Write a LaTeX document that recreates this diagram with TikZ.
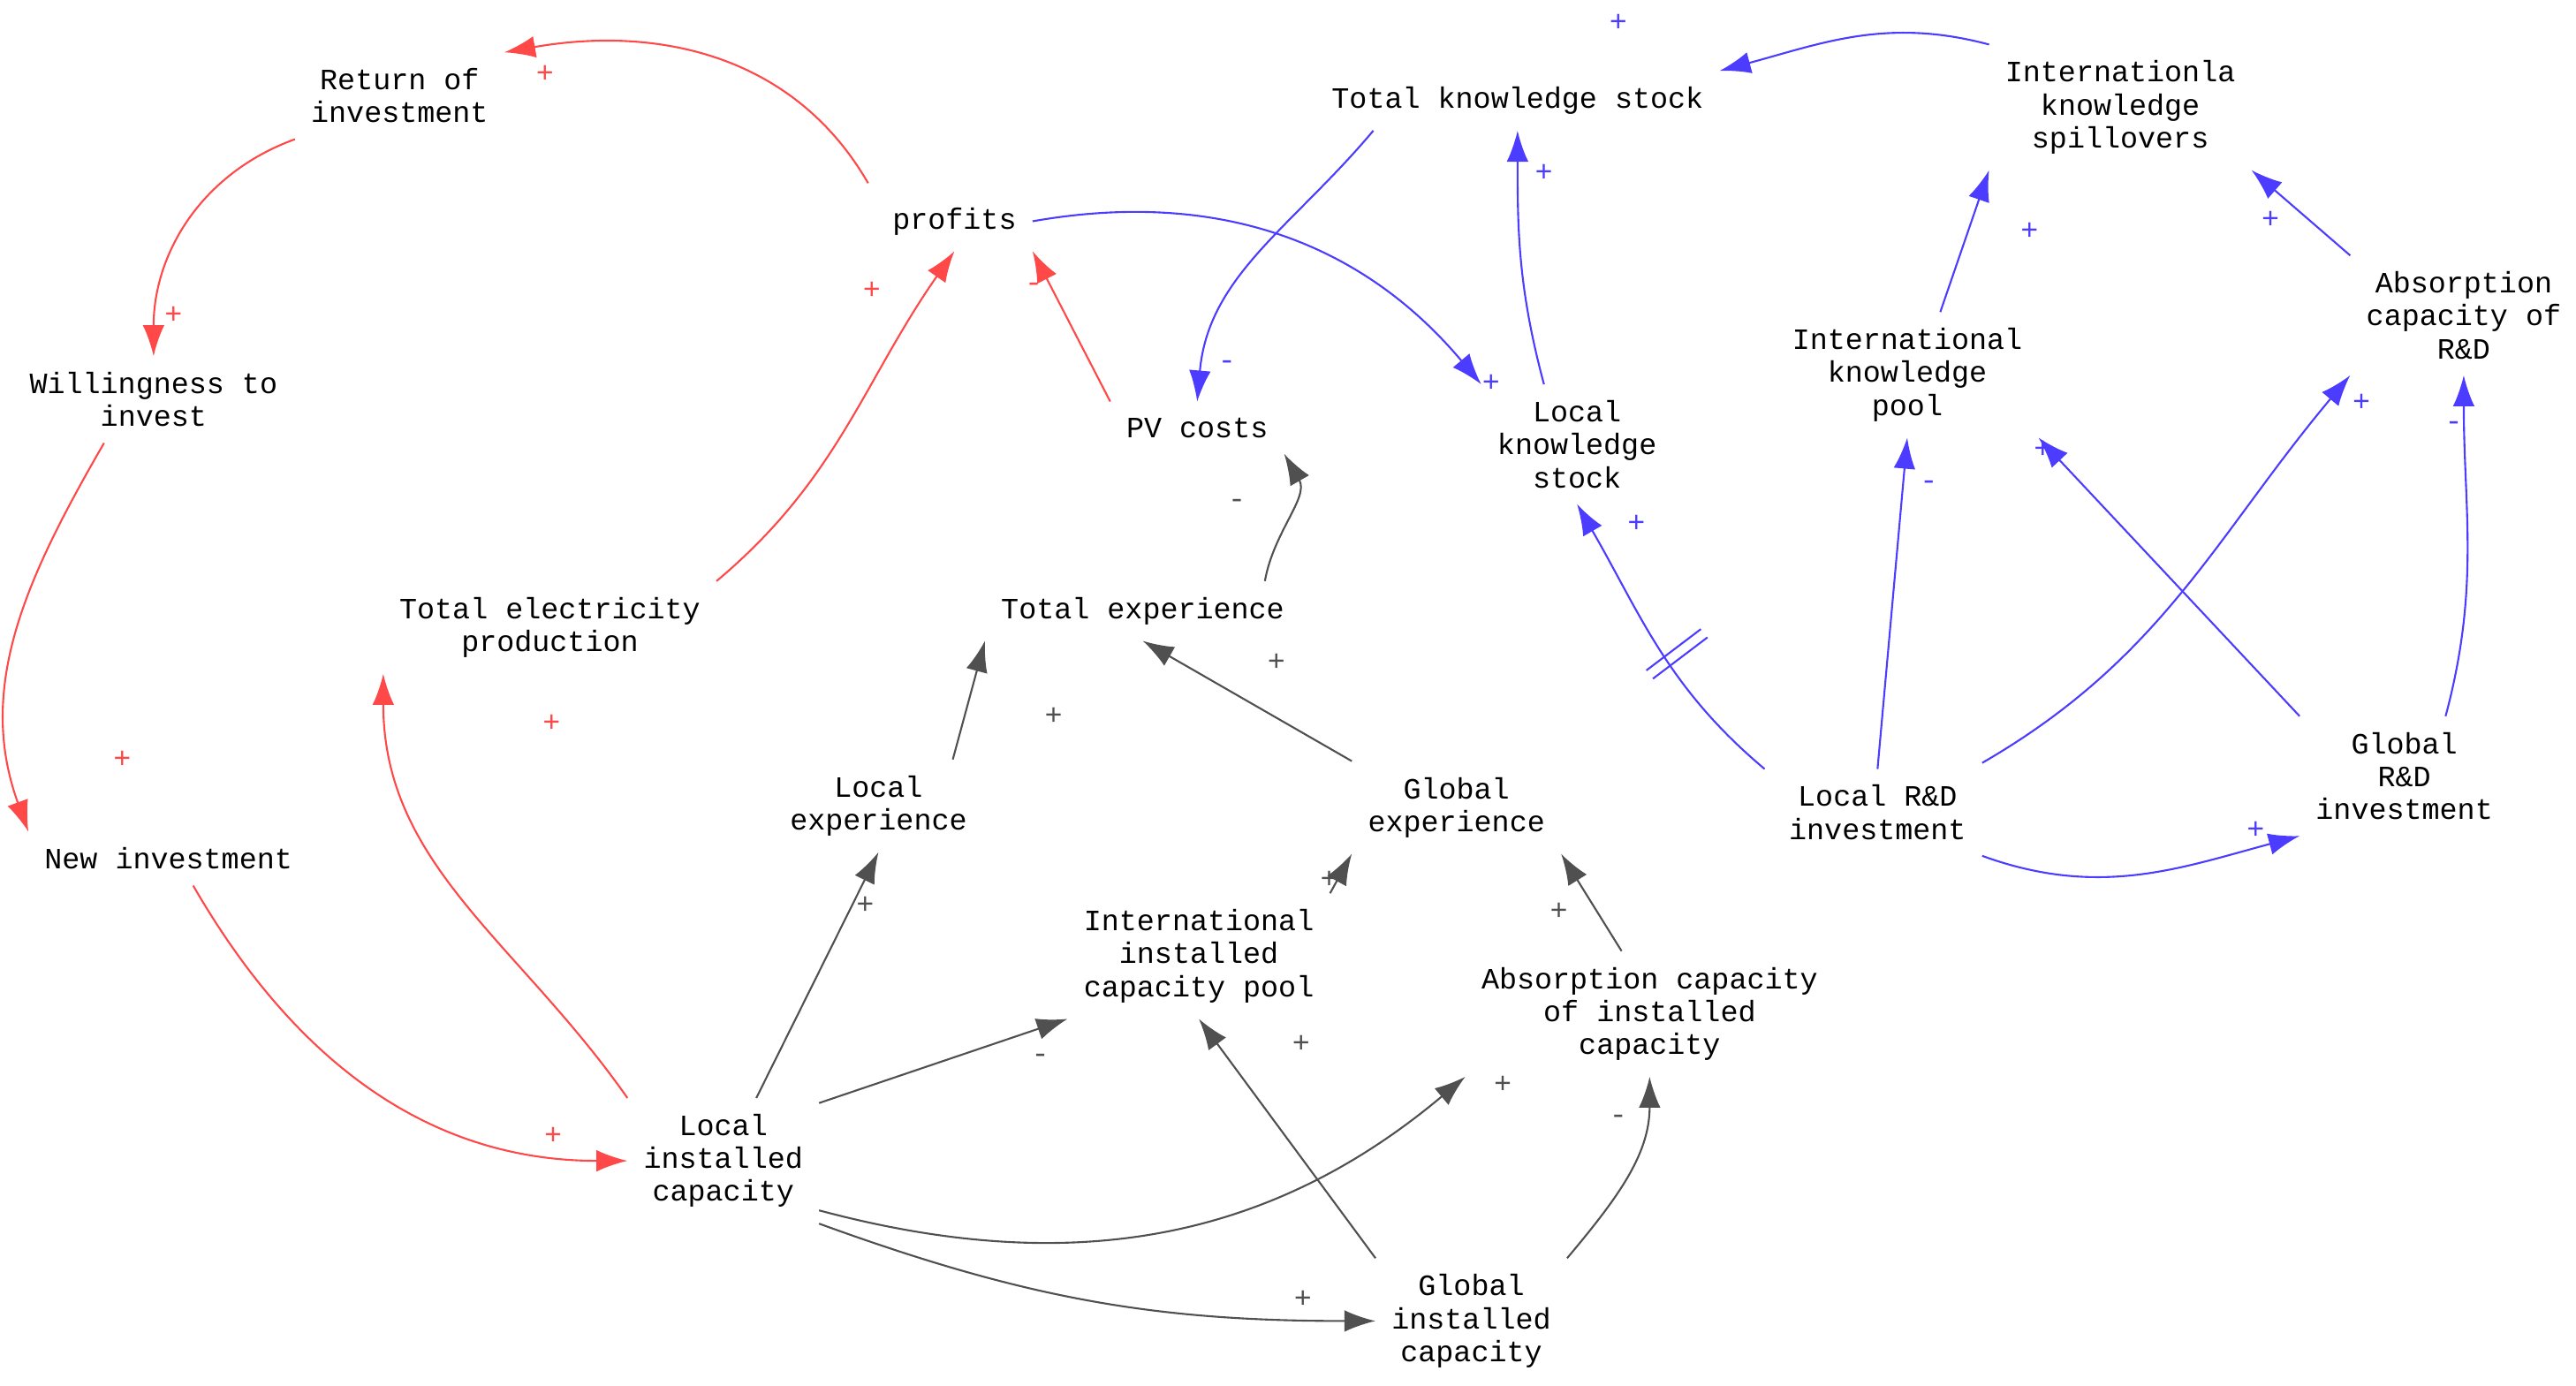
\documentclass[tikz,border=0pt]{standalone}
\usepackage{fontspec}
\setmainfont{Liberation Mono}
\usetikzlibrary{arrows.meta}
\definecolor{cr}{HTML}{FF4848}
\definecolor{cb}{HTML}{4B3CFF}
\definecolor{cg}{HTML}{505050}
\begin{document}
\begin{tikzpicture}[x=0.01869cm,y=0.01869cm,
  nd/.style={align=center,font=\fontsize{9.5}{10.6}\selectfont,inner sep=5pt},
  lbl/.style={font=\fontsize{9.5}{10}\selectfont,inner sep=0pt},
  ar/.style={-{Latex[length=10pt,width=7pt]},line width=0.6pt},
  R/.style={ar,cr}, B/.style={ar,cb}, G/.style={ar,cg}]
\useasboundingbox (0,0) rectangle (1560,-839);
\node[nd] (ret) at (242,-58) {Return of\\investment};
\node[nd] (will) at (93,-242) {Willingness to\\invest};
\node[nd] (newinv) at (102,-520) {New investment};
\node[nd] (profits) at (578,-134) {profits};
\node[nd] (totelec) at (333,-380) {Total electricity\\production};
\node[nd] (pvc) at (725,-259) {PV costs};
\node[nd] (totexp) at (692,-370) {Total experience};
\node[nd] (locexp) at (532,-488) {Local\\experience};
\node[nd] (globexp) at (882,-489) {Global\\experience};
\node[nd] (intpool) at (726,-579) {International\\installed\\capacity pool};
\node[nd] (abscap) at (999,-614) {Absorption capacity\\of installed\\capacity};
\node[nd] (locinst) at (438,-703) {Local\\installed\\capacity};
\node[nd] (globinst) at (891,-800) {Global\\installed\\capacity};
\node[nd] (tks) at (919,-61) {Total knowledge stock};
\node[nd] (intspill) at (1284,-65) {Internationla\\knowledge\\spillovers};
\node[nd] (intkpool) at (1155,-227) {International\\knowledge\\pool};
\node[nd] (absrd) at (1492,-191) {Absorption\\capacity of\\R\&D};
\node[nd] (lks) at (955,-269) {Local\\knowledge\\stock};
\node[nd] (lrd) at (1137,-492) {Local R\&D\\investment};
\node[nd] (grd) at (1456,-470) {Global\\R\&D\\investment};
% red
\draw[R] (profits.north west) ++(-5,5) coordinate (pa) to[out=120,in=10] (ret.north east);
\draw[R] (ret.south west) to[out=200,in=90] (will.north);
\draw[R] (will.south) ++(-30,0) coordinate (wa) to[out=240,in=110] (newinv.north west);
\draw[R] (newinv.south) ++(15,0) coordinate (na) to[out=-60,in=180] (locinst.west);
\draw[R] (locinst.north west) to[out=125,in=-90] (totelec.south west);
\draw[R] (totelec.north east) to[out=40,in=-125] (profits.south);
\draw[R] (pvc.north west) -- (profits.south east);
% blue
\draw[B] (intspill.north west) to[out=165,in=15] (tks.north east);
\draw[B] (tks.south west) ++(35,0) coordinate (ta) to[out=-130,in=85] (pvc.north);
\draw[B] (profits.east) to[out=10,in=130] (lks.north west);
\draw[B] (lks.north) ++(-20,0) coordinate (la) to[out=105,in=-90] (tks.south);
\draw[B] (lrd.north west) ++(-5,0) coordinate (ra) to[out=140,in=-60] (lks.south);
\draw[B] (intkpool.north) ++(20,0) coordinate (ia) -- (intspill.south west);
\draw[B] (absrd.north west) -- (intspill.south east);
\draw[B] (lrd.north) -- (intkpool.south);
\draw[B] (grd.north west) -- (intkpool.south east);
\draw[B] (lrd.east) ++(0,30) coordinate (rb) to[out=30,in=-130] (absrd.south west);
\draw[B] (grd.north) ++(25,0) coordinate (ga) to[out=75,in=-90] (absrd.south);
\draw[B] (lrd.south east) to[out=-20,in=195] (grd.south west);
\draw[cb,line width=0.6pt] (997,-406) -- (1030,-381) (1001,-411) -- (1034,-386);
% gray
\draw[G] (totexp.north) ++(74,0) coordinate (xa) to[out=80,in=-60] (pvc.south east);
\draw[G] (locexp.north) ++(45,0) coordinate (lb) -- (totexp.south west);
\draw[G] (globexp.north west) -- (totexp.south);
\draw[G] (locinst.north) ++(20,0) coordinate (lc) -- (locexp.south);
\draw[G] (intpool.north east) -- (globexp.south west);
\draw[G] (abscap.north) ++(-17,0) coordinate (aa) -- (globexp.south east);
\draw[G] (locinst.east) ++(0,35) coordinate (ld) -- (intpool.south west);
\draw[G] (globinst.north west) -- (intpool.south);
\draw[G] (locinst.east) ++(0,-30) coordinate (le) to[out=-15,in=-140] (abscap.south west);
\draw[G] (globinst.north east) to[out=50,in=-90] (abscap.south);
\draw[G] (locinst.south east) to[out=-20,in=180] (globinst.west);
% labels
\begin{scope}[every node/.style={lbl}]
\node[cr] (a1) at (330,-45) {+}; \node[cr] (a2) at (105,-191) {+};
\node[cr] (a3) at (74,-460) {+}; \node[cr] (a4) at (335,-688) {+};
\node[cr] (a5) at (334,-438) {+}; \node[cr] (a6) at (528,-176) {+};
\node[cr] (a7) at (626,-174) {-};
\node[cb] (b1) at (980,-14) {+}; \node[cb] (b2) at (743,-221) {-};
\node[cb] (b3) at (903,-232) {+}; \node[cb] (b4) at (935,-105) {+};
\node[cb] (b5) at (991,-317) {+}; \node[cb] (b6) at (1229,-140) {+};
\node[cb] (b7) at (1375,-133) {+}; \node[cb] (b8) at (1168,-294) {-};
\node[cb] (b9) at (1237,-272) {+}; \node[cb] (b10) at (1430,-244) {+};
\node[cb] (b11) at (1486,-258) {-}; \node[cb] (b12) at (1366,-503) {+};
\node[cg] (c1) at (749,-305) {-}; \node[cg] (c2) at (638,-434) {+};
\node[cg] (c3) at (773,-401) {+}; \node[cg] (c4) at (524,-548) {+};
\node[cg] (c5) at (805,-533) {+}; \node[cg] (c6) at (944,-552) {+};
\node[cg] (c7) at (630,-641) {-}; \node[cg] (c8) at (788,-632) {+};
\node[cg] (c9) at (910,-657) {+}; \node[cg] (c10) at (980,-678) {-};
\node[cg] (c11) at (789,-787) {+};
\end{scope}
\end{tikzpicture}
\end{document}
